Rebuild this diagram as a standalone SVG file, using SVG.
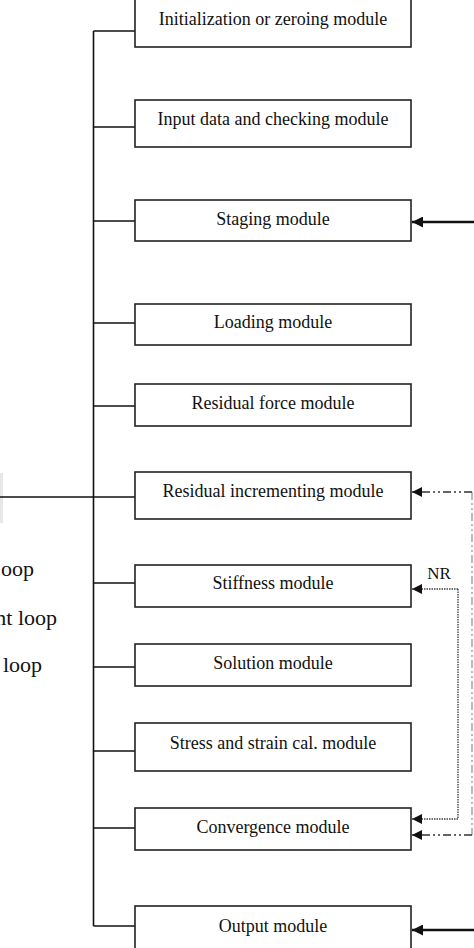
<svg xmlns="http://www.w3.org/2000/svg" width="474" height="948" viewBox="0 0 474 948">
<style>
.box{fill:#fff;stroke:#222;stroke-width:1.6}
.lbl{font-family:"Liberation Serif","Times New Roman",serif;font-size:18px;fill:#111;text-anchor:middle}
.side{font-family:"Liberation Serif","Times New Roman",serif;font-size:22px;fill:#111;text-anchor:end}
.ln{stroke:#111;stroke-width:1.6;fill:none}
.solid{stroke:#111;stroke-width:2.4;fill:none}
.dd{stroke:#333;stroke-width:1.6;fill:none;stroke-dasharray:8 3 2 3 2 3}
.ddg{stroke:#bbb;stroke-width:2;fill:none;stroke-dasharray:8 3 2 3 2 3}
.dot{stroke:#444;stroke-width:1.4;fill:none;stroke-dasharray:1.5 1}
</style>
<defs>
<marker id="ah" viewBox="0 0 10 10" refX="10" refY="5" markerWidth="10" markerHeight="10" markerUnits="userSpaceOnUse" orient="auto">
<path d="M0,0 L10,5 L0,10 z" fill="#111"/>
</marker>
<marker id="ahs" viewBox="0 0 10 10" refX="10" refY="5" markerWidth="11" markerHeight="11" markerUnits="userSpaceOnUse" orient="auto">
<path d="M0,0 L10,5 L0,10 z" fill="#111"/>
</marker>
</defs>
<rect x="0" y="0" width="474" height="948" fill="#fff"/>
<rect x="0" y="473" width="3" height="50" fill="#e8e8e8"/>
<g id="connectors">
<line class="ln" x1="93.5" y1="31" x2="93.5" y2="926"/>
<line class="ln" x1="93.5" y1="31" x2="135" y2="31"/>
<line class="ln" x1="93.5" y1="127" x2="135" y2="127"/>
<line class="ln" x1="93.5" y1="221" x2="135" y2="221"/>
<line class="ln" x1="93.5" y1="323" x2="135" y2="323"/>
<line class="ln" x1="93.5" y1="406" x2="135" y2="406"/>
<line class="ln" x1="0" y1="497" x2="135" y2="497"/>
<line class="ln" x1="93.5" y1="583" x2="135" y2="583"/>
<line class="ln" x1="93.5" y1="667" x2="135" y2="667"/>
<line class="ln" x1="93.5" y1="751" x2="135" y2="751"/>
<line class="ln" x1="93.5" y1="828" x2="135" y2="828"/>
<line class="ln" x1="93.5" y1="926" x2="135" y2="926"/>
<line class="solid" x1="474" y1="222" x2="412" y2="222" marker-end="url(#ahs)"/>
<line class="solid" x1="474" y1="930" x2="412" y2="930" marker-end="url(#ahs)"/>
<line class="ddg" x1="472" y1="492" x2="472" y2="835"/>
<line class="dd" x1="472" y1="492" x2="412" y2="492" marker-end="url(#ah)"/>
<line class="dd" x1="472" y1="835" x2="412" y2="835" marker-end="url(#ah)"/>
<polyline class="dot" points="458,589 458,819"/>
<line class="dot" x1="458" y1="589" x2="412" y2="589" marker-end="url(#ah)"/>
<line class="dot" x1="458" y1="819" x2="412" y2="819" marker-end="url(#ah)"/>
<text x="439" y="579" class="lbl" style="font-size:17px">NR</text>
</g>
<g id="n1"><rect class="box" x="135" y="-2" width="276" height="49"/><text class="lbl" x="273" y="25">Initialization or zeroing module</text></g>
<g id="n2"><rect class="box" x="135" y="100" width="276" height="47"/><text class="lbl" x="273" y="125">Input data and checking module</text></g>
<g id="n3"><rect class="box" x="135" y="200" width="276" height="41"/><text class="lbl" x="273" y="225">Staging module</text></g>
<g id="n4"><rect class="box" x="135" y="304" width="276" height="41"/><text class="lbl" x="273" y="328">Loading module</text></g>
<g id="n5"><rect class="box" x="135" y="384" width="276" height="42"/><text class="lbl" x="273" y="409">Residual force module</text></g>
<g id="n6"><rect class="box" x="135" y="472" width="276" height="47"/><text class="lbl" x="273" y="497">Residual incrementing module</text></g>
<g id="n7"><rect class="box" x="135" y="565" width="276" height="42"/><text class="lbl" x="273" y="589">Stiffness module</text></g>
<g id="n8"><rect class="box" x="135" y="644" width="276" height="42"/><text class="lbl" x="273" y="669">Solution module</text></g>
<g id="n9"><rect class="box" x="135" y="723" width="276" height="48"/><text class="lbl" x="273" y="749">Stress and strain cal. module</text></g>
<g id="n10"><rect class="box" x="135" y="808" width="276" height="42"/><text class="lbl" x="273" y="833">Convergence module</text></g>
<g id="n11"><rect class="box" x="135" y="906" width="276" height="48"/><text class="lbl" x="273" y="932">Output module</text></g>
<g id="legend">
<text class="side" x="34" y="576">oop</text>
<text class="side" x="57" y="625">nt loop</text>
<text class="side" x="42" y="672">loop</text>
</g>
</svg>
